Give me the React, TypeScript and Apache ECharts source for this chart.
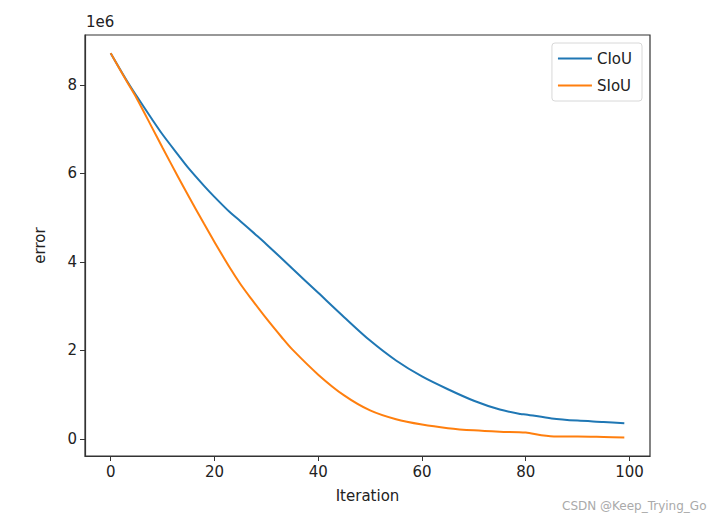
import React, { useEffect, useRef } from "react";
import * as echarts from "echarts";

// values (units of 1e6)
const ciouX = [0, 3, 5, 8, 10, 13, 15, 18, 20, 23, 25, 28, 30, 35, 40, 45, 50, 55, 60, 65, 70, 75, 79, 80, 85, 90, 95, 99];
const ciouY = [8.72, 8.12, 7.75, 7.22, 6.88, 6.42, 6.12, 5.72, 5.47, 5.12, 4.92, 4.61, 4.4, 3.85, 3.3, 2.75, 2.22, 1.77, 1.41, 1.12, 0.86, 0.66, 0.56, 0.55, 0.46, 0.41, 0.38, 0.35];
const siouX = [0, 3, 5, 8, 10, 13, 15, 18, 20, 23, 25, 27, 30, 33, 35, 40, 45, 50, 55, 60, 65, 70, 75, 80, 83, 86, 90, 95, 99];
const siouY = [8.72, 8.1, 7.7, 7.03, 6.58, 5.92, 5.49, 4.86, 4.45, 3.86, 3.5, 3.18, 2.72, 2.29, 2.02, 1.45, 0.98, 0.64, 0.44, 0.32, 0.24, 0.19, 0.16, 0.14, 0.08, 0.05, 0.05, 0.04, 0.03];
const xTicks = [0, 20, 40, 60, 80, 100];
const yTicks = [0, 2, 4, 6, 8];

const font = "DejaVu Sans";

const App = () => {
  const chartRef = useRef<HTMLDivElement | null>(null);

  useEffect(() => {
    document.body.style.margin = "0";
    if (!chartRef.current) return;
    const chart = echarts.init(chartRef.current, undefined, { renderer: "svg" });

    const option = {
      animation: false,
      backgroundColor: "#ffffff",
      grid: {
        left: 85,
        right: 65,
        top: 35,
        bottom: 64,
        show: true,
        borderColor: "#333",
        borderWidth: 1.2,
      },
      legend: {
        orient: "vertical",
        right: 73,
        top: 43,
        padding: [8, 10, 8, 6],
        itemGap: 12,
        itemWidth: 34,
        itemHeight: 2,
        icon: "rect",
        borderColor: "#d8d8d8",
        borderWidth: 1,
        borderRadius: 3,
        textStyle: { fontFamily: font, fontSize: 15, color: "#222" },
        data: ["CIoU", "SIoU"],
      },
      xAxis: {
        type: "value",
        min: -4.95,
        max: 103.95,
        name: "Iteration",
        nameLocation: "middle",
        nameGap: 32,
        nameTextStyle: { fontFamily: font, fontSize: 15, color: "#222" },
        splitLine: { show: false },
        axisLine: { show: true, onZero: false, lineStyle: { color: "#333", width: 1.2 } },
        axisTick: { show: true, length: 5, customValues: xTicks, lineStyle: { color: "#333" } },
        axisLabel: {
          customValues: xTicks,
          fontFamily: font,
          fontSize: 15,
          color: "#222",
          margin: 8,
        },
      },
      yAxis: {
        type: "value",
        min: -0.39,
        max: 9.13,
        name: "error",
        nameLocation: "middle",
        nameGap: 38,
        nameTextStyle: { fontFamily: font, fontSize: 15, color: "#222" },
        splitLine: { show: false },
        axisLine: { show: true, onZero: false, lineStyle: { color: "#333", width: 1.2 } },
        axisTick: { show: true, length: 5, customValues: yTicks, lineStyle: { color: "#333" } },
        axisLabel: {
          customValues: yTicks,
          fontFamily: font,
          fontSize: 15,
          color: "#222",
          margin: 8,
        },
      },
      graphic: [
        {
          type: "text",
          left: 86,
          top: 14,
          style: { text: "1e6", fontFamily: font, fontSize: 15, fill: "#222" },
        },
        {
          type: "text",
          left: 562,
          top: 500,
          style: { text: "CSDN @Keep_Trying_Go", fontFamily: font, fontSize: 12, fill: "#aaa" },
        },
      ],
      series: [
        {
          name: "CIoU",
          type: "line",
          symbol: "none",
          smooth: 0.3,
          data: ciouX.map((x, i) => [x, ciouY[i]]),
          lineStyle: { color: "#1f77b4", width: 2 },
          itemStyle: { color: "#1f77b4" },
        },
        {
          name: "SIoU",
          type: "line",
          symbol: "none",
          smooth: 0.3,
          data: siouX.map((x, i) => [x, siouY[i]]),
          lineStyle: { color: "#ff7f0e", width: 2 },
          itemStyle: { color: "#ff7f0e" },
        },
      ],
    };

    chart.setOption(option);
    return () => {
      chart.dispose();
    };
  }, []);

  return <div ref={chartRef} style={{ width: "715px", height: "520px" }}></div>;
};

export default App;
